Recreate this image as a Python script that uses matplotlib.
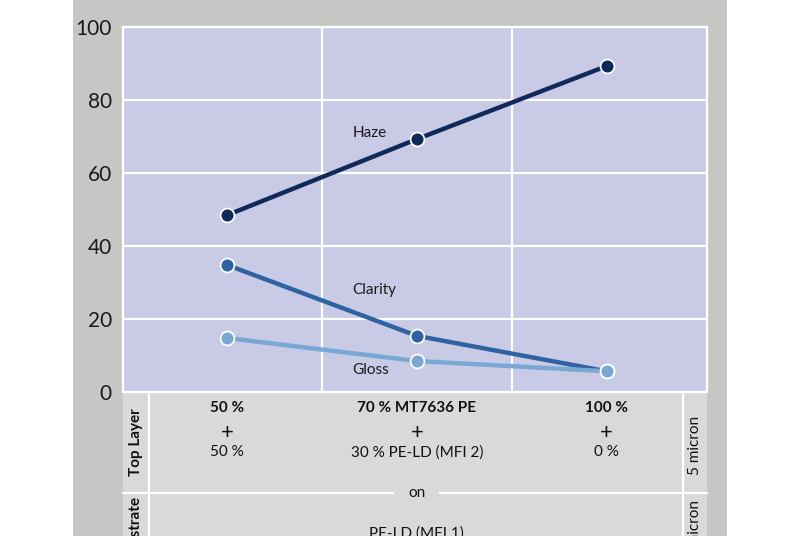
import numpy as np
import matplotlib.pyplot as plt
from matplotlib.patches import Rectangle
from matplotlib.lines import Line2D
from matplotlib.transforms import blended_transform_factory

plt.rcParams['font.family'] = ['Lato', 'DejaVu Sans']

# ========== DATA ==========
x_pos = [0.5, 1.5, 2.5]
top_share = ['50 %', '70 % MT7636 PE', '100 %']
blend_share = ['50 %', '30 % PE-LD (MFI 2)', '0 %']
haze = [48.4, 69.2, 89.2]
clarity = [34.7, 15.3, 5.6]
gloss = [14.7, 8.4, 5.6]
y_ticks = [0, 20, 40, 60, 80, 100]

# ========== COLOURS ==========
c_frame = '#c6c7c5'
c_table = '#d9dad8'
c_plot = '#c9cae6'
c_haze = '#10295a'
c_clarity = '#2e62a1'
c_gloss = '#7aa8d4'

W, H = 800, 536
fig = plt.figure(figsize=(8, 5.36), dpi=100)
fig.patch.set_facecolor('white')

def fx(px):
    return px / W

def fy(py):
    return 1 - py / H

# grey frame and table area
fig.add_artist(Rectangle((fx(73), 0), fx(727) - fx(73), 1, transform=fig.transFigure,
                         facecolor=c_frame, edgecolor='none', zorder=0))
fig.add_artist(Rectangle((fx(123), 0), fx(707) - fx(123), fy(392), transform=fig.transFigure,
                         facecolor=c_table, edgecolor='none', zorder=0))

# ========== PLOT ==========
ax = fig.add_axes([fx(123), fy(391.7), fx(707) - fx(123), fy(26.7) - fy(391.7)])
ax.set_facecolor(c_plot)
ax.set_xlim(-0.05, 3.03)
ax.set_ylim(0, 100)
ax.set_yticks(y_ticks)
ax.set_xticks([1, 2])
ax.set_xticklabels([])
ax.tick_params(length=0, labelsize=15, pad=8, colors='#1a1a1a')
ax.grid(True, color='white', linewidth=1.6)
ax.set_axisbelow(True)
for s in ax.spines.values():
    s.set_color('white')
    s.set_linewidth(1.6)

for vals, col in [(haze, c_haze), (clarity, c_clarity), (gloss, c_gloss)]:
    ax.plot(x_pos, vals, color=col, linewidth=3.2, marker='o', markersize=10,
            markerfacecolor=col, markeredgecolor='white', markeredgewidth=1.3,
            solid_capstyle='round', zorder=3)

ax.text(1.16, 70.8, 'Haze', fontsize=11, va='center', ha='left', color='#1a1a1a')
ax.text(1.16, 27.8, 'Clarity', fontsize=11, va='center', ha='left', color='#1a1a1a')
ax.text(1.16, 5.9, 'Gloss', fontsize=11, va='center', ha='left', color='#1a1a1a')

# ========== TABLE BELOW ==========
tr = blended_transform_factory(ax.transData, fig.transFigure)
for xp, a, b in zip(x_pos, top_share, blend_share):
    fig.text(xp, fy(407.5), a, transform=tr, ha='center', va='center',
             fontsize=11, fontweight='bold', color='#111111')
    fig.text(xp, fy(433), '+', transform=tr, ha='center', va='center',
             fontsize=16, fontweight='normal', color='#111111')
    fig.text(xp, fy(452.5), b, transform=tr, ha='center', va='center',
             fontsize=11, color='#111111')

fig.text(x_pos[1], fy(493), 'on', transform=tr, ha='center', va='center',
         fontsize=11, color='#111111')
fig.text(x_pos[1], fy(538), 'PE-LD (MFI 1)', transform=tr, ha='center', va='baseline',
         fontsize=11, color='#111111')

fig.text(fx(136), fy(442), 'Top Layer', rotation=90, ha='center', va='center',
         fontsize=11, fontweight='bold', color='#111111')
fig.text(fx(136), fy(496), 'Substrate', rotation=90, ha='center', va='top',
         fontsize=11, fontweight='bold', color='#111111')
fig.text(fx(695), fy(445), '5 micron', rotation=90, ha='center', va='center',
         fontsize=11, color='#111111')
fig.text(fx(695), fy(500), '20 micron', rotation=90, ha='center', va='top',
         fontsize=11, color='#111111')

# white separators
lw = 1.6
sep = dict(color='white', linewidth=lw, transform=fig.transFigure, zorder=1)
fig.add_artist(Line2D([fx(149), fx(149)], [0, fy(392)], **sep))
fig.add_artist(Line2D([fx(683), fx(683)], [0, fy(392)], **sep))
fig.add_artist(Line2D([fx(123), fx(393)], [fy(492.7), fy(492.7)], **sep))
fig.add_artist(Line2D([fx(440), fx(707)], [fy(492.7), fy(492.7)], **sep))

fig.savefig('out.png', dpi=100)
